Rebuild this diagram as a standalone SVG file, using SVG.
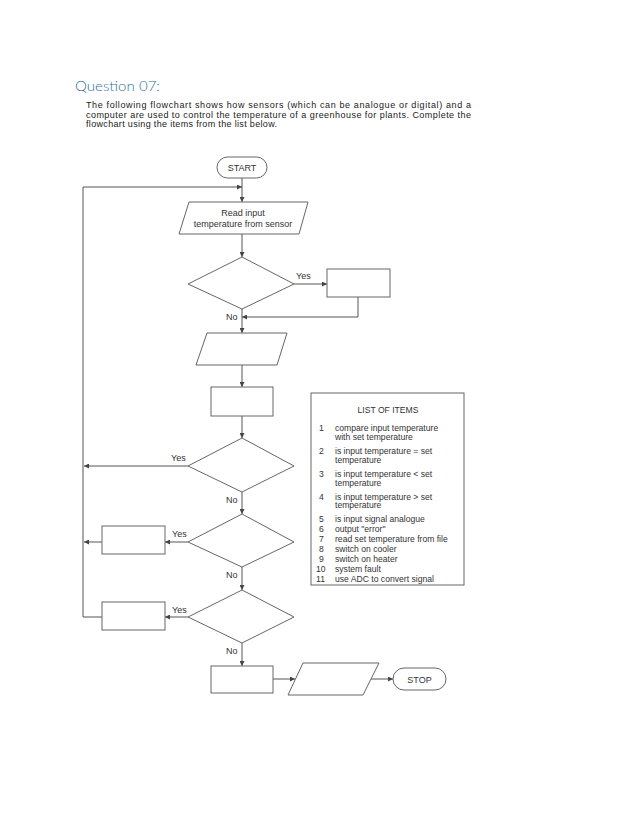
<svg xmlns="http://www.w3.org/2000/svg" width="638" height="826" viewBox="0 0 638 826">
<defs>
<marker id="arr" viewBox="0 0 10 10" refX="10" refY="5" markerWidth="6" markerHeight="5" orient="auto" markerUnits="userSpaceOnUse">
<path d="M0,0 L10,5 L0,10 z" fill="#444"/>
</marker>
<style>
.s{fill:#fff;stroke:#666;stroke-width:1}
.c{fill:none;stroke:#555;stroke-width:1}
.t{font-family:"Liberation Sans",Arial,sans-serif;font-size:9px;fill:#333}
.m{text-anchor:middle}
.p{font-family:"Liberation Sans",Arial,sans-serif;font-size:9px;fill:#1a1a1a}
.l{font-family:"Liberation Sans",Arial,sans-serif;font-size:8.6px;fill:#333}
</style>
</defs>
<rect width="638" height="826" fill="#fff"/>
<text x="75" y="91" font-family="Lato,'Open Sans','Liberation Sans',sans-serif" font-weight="300" font-size="13.5" fill="#2e6da4" textLength="85" lengthAdjust="spacingAndGlyphs">Question 07:</text>
<text class="p" x="86" y="108" textLength="385" lengthAdjust="spacing">The following flowchart shows how sensors (which can be analogue or digital) and a</text>
<text class="p" x="86" y="117.5" textLength="385" lengthAdjust="spacing">computer are used to control the temperature of a greenhouse for plants. Complete the</text>
<text class="p" x="86" y="127" textLength="191" lengthAdjust="spacing">flowchart using the items from the list below.</text>

<g id="connectors">
<path class="c" d="M242,178 V202" marker-end="url(#arr)"/>
<path class="c" d="M83,617 V187 H242" marker-end="url(#arr)"/>
<path class="c" d="M242,234 V257" marker-end="url(#arr)"/>
<path class="c" d="M294,284 H327" marker-end="url(#arr)"/>
<path class="c" d="M358,297 V317 H242" marker-end="url(#arr)"/>
<path class="c" d="M242,309 V333" marker-end="url(#arr)"/>
<path class="c" d="M242,365 V387" marker-end="url(#arr)"/>
<path class="c" d="M242,416 V438" marker-end="url(#arr)"/>
<path class="c" d="M188,466 H84" marker-end="url(#arr)"/>
<path class="c" d="M242,492 V514" marker-end="url(#arr)"/>
<path class="c" d="M188,542 H165" marker-end="url(#arr)"/>
<path class="c" d="M102,542 H84" marker-end="url(#arr)"/>
<path class="c" d="M242,567 V590" marker-end="url(#arr)"/>
<path class="c" d="M188,617 H165" marker-end="url(#arr)"/>
<path class="c" d="M102,617 H83"/>
<path class="c" d="M242,643 V666" marker-end="url(#arr)"/>
<path class="c" d="M273,679 H295" marker-end="url(#arr)"/>
<path class="c" d="M371,679 H393" marker-end="url(#arr)"/>
<text class="t" x="296" y="279">Yes</text>
<text class="t" x="226" y="319.5">No</text>
<text class="t" x="171" y="461">Yes</text>
<text class="t" x="226" y="502.5">No</text>
<text class="t" x="172" y="537">Yes</text>
<text class="t" x="226" y="578">No</text>
<text class="t" x="172" y="613">Yes</text>
<text class="t" x="226" y="654">No</text>
</g>

<g id="start">
<rect class="s" x="217" y="157" width="50" height="21" rx="10.5"/>
<text class="t m" x="242" y="171">START</text>
</g>
<g id="read-input">
<polygon class="s" points="189,202 308,202 299,234 179,234"/>
<text class="t m" x="243" y="215.5">Read input</text>
<text class="t m" x="243" y="226.5">temperature from sensor</text>
</g>
<g id="decision1">
<polygon class="s" points="242,257 294,284 242,309 188,284"/>
</g>
<g id="box1">
<rect class="s" x="327" y="269" width="63" height="28"/>
</g>
<g id="io2">
<polygon class="s" points="207,333 287,333 277,365 196,365"/>
</g>
<g id="box2">
<rect class="s" x="211" y="387" width="62" height="29"/>
</g>
<g id="decision3">
<polygon class="s" points="242,438 294,466 242,492 188,466"/>
</g>
<g id="decision4">
<polygon class="s" points="242,514 294,542 242,567 188,542"/>
</g>
<g id="box4">
<rect class="s" x="102" y="526" width="63" height="28"/>
</g>
<g id="decision5">
<polygon class="s" points="242,590 294,617 242,643 188,617"/>
</g>
<g id="box5">
<rect class="s" x="102" y="602" width="63" height="28"/>
</g>
<g id="box6">
<rect class="s" x="211" y="666" width="62" height="27"/>
</g>
<g id="io6">
<polygon class="s" points="303,663 379,663 363,695 288,695"/>
</g>
<g id="stop">
<rect class="s" x="393" y="668" width="53" height="22" rx="11"/>
<text class="t m" x="419.5" y="682.5">STOP</text>
</g>

<g id="list-of-items">
<rect class="s" x="311" y="393" width="153" height="192"/>
<text class="l m" x="388" y="413">LIST OF ITEMS</text>
<g class="l">
<text x="319" y="431">1</text><text x="335" y="431">compare input temperature</text>
<text x="335" y="440">with set temperature</text>
<text x="319" y="454">2</text><text x="335" y="454">is input temperature = set</text>
<text x="335" y="462.5">temperature</text>
<text x="319" y="477">3</text><text x="335" y="477">is input temperature &lt; set</text>
<text x="335" y="485.5">temperature</text>
<text x="319" y="499.5">4</text><text x="335" y="499.5">is input temperature &gt; set</text>
<text x="335" y="508">temperature</text>
<text x="319" y="521.5">5</text><text x="335" y="521.5">is input signal analogue</text>
<text x="319" y="531.5">6</text><text x="335" y="531.5">output "error"</text>
<text x="319" y="541.5">7</text><text x="335" y="541.5">read set temperature from file</text>
<text x="319" y="551.5">8</text><text x="335" y="551.5">switch on cooler</text>
<text x="319" y="561.5">9</text><text x="335" y="561.5">switch on heater</text>
<text x="316" y="571.5">10</text><text x="335" y="571.5">system fault</text>
<text x="316" y="581.5">11</text><text x="335" y="581.5">use ADC to convert signal</text>
</g>
</g>
</svg>
